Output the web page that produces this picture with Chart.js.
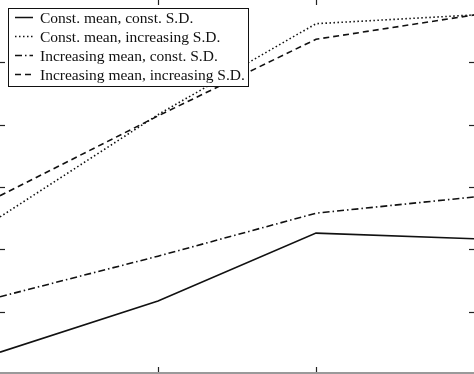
<!DOCTYPE html>
<html><head><meta charset="utf-8">
<script src="https://cdn.jsdelivr.net/npm/chart.js@4/dist/chart.umd.min.js"></script>
<style>html,body{margin:0;padding:0;background:#fff;}#wrap{width:474px;height:374px;}</style>
</head><body><div id="wrap"><canvas id="c" width="474" height="374"></canvas></div>
<script>
const xValues = [0, 1, 2, 3];
const seriesLabels = ["Const. mean, const. S.D.", "Const. mean, increasing S.D.", "Increasing mean, const. S.D.", "Increasing mean, increasing S.D."];
const constMeanConstSD = [0.35, 1.17, 2.26, 2.17];
const constMeanIncSD = [2.52, 4.16, 5.62, 5.76];
const incMeanConstSD = [1.24, 1.89, 2.58, 2.84];
const incMeanIncSD = [2.86, 4.14, 5.37, 5.76];
const xTicks = [1, 2];
const yTicks = [1, 2, 3, 4, 5];

const dashes = [[], [1.5, 2.5], [7, 3, 1.5, 3], [6, 4]];
const seriesData = [constMeanConstSD, constMeanIncSD, incMeanConstSD, incMeanIncSD];

const datasets = seriesData.map((vals, i) => ({
  label: seriesLabels[i],
  data: vals.map((v, j) => ({x: xValues[j], y: v})),
  borderColor: '#111',
  borderWidth: 1.6,
  borderDash: dashes[i],
  pointRadius: 0,
  fill: false,
  tension: 0
}));

const decor = {
  id: 'decor',
  afterDatasetsDraw(chart) {
    const ctx = chart.ctx, a = chart.chartArea;
    const xs = chart.scales.x, ys = chart.scales.y;
    ctx.save();
    ctx.strokeStyle = '#9a9a9a'; ctx.lineWidth = 2;
    ctx.beginPath(); ctx.moveTo(a.left, a.bottom - 1); ctx.lineTo(a.right, a.bottom - 1); ctx.stroke();
    ctx.strokeStyle = '#222'; ctx.lineWidth = 1.2;
    xTicks.forEach(t => {
      const px = Math.round(xs.getPixelForValue(t)) + 0.5;
      ctx.beginPath(); ctx.moveTo(px, a.bottom - 2); ctx.lineTo(px, a.bottom - 7); ctx.stroke();
      ctx.beginPath(); ctx.moveTo(px, a.top); ctx.lineTo(px, a.top + 5); ctx.stroke();
    });
    yTicks.forEach(t => {
      const py = Math.round(ys.getPixelForValue(t)) + 0.5;
      ctx.beginPath(); ctx.moveTo(a.left, py); ctx.lineTo(a.left + 5, py); ctx.stroke();
      ctx.beginPath(); ctx.moveTo(a.right - 5, py); ctx.lineTo(a.right, py); ctx.stroke();
    });
    const bx = 8.5, by = 8.5, bw = 240, bh = 78;
    ctx.fillStyle = '#fff'; ctx.fillRect(bx, by, bw, bh);
    ctx.strokeStyle = '#111'; ctx.lineWidth = 1; ctx.setLineDash([]);
    ctx.strokeRect(bx, by, bw, bh);
    ctx.font = '15.5px "Liberation Serif", "Times New Roman", serif';
    ctx.textBaseline = 'middle'; ctx.textAlign = 'left';
    seriesLabels.forEach((lab, i) => {
      const cy = 17.5 + i * 19;
      ctx.strokeStyle = '#111'; ctx.lineWidth = 1.5; ctx.setLineDash(dashes[i]);
      ctx.beginPath(); ctx.moveTo(15, cy); ctx.lineTo(33, cy); ctx.stroke();
      ctx.setLineDash([]);
      ctx.fillStyle = '#111'; ctx.fillText(lab, 40, cy + 1);
    });
    ctx.restore();
  }
};

new Chart(document.getElementById('c'), {
  type: 'line',
  data: { datasets },
  options: {
    responsive: false,
    animation: false,
    layout: { padding: 0 },
    plugins: { legend: { display: false }, tooltip: { enabled: false } },
    scales: {
      x: { type: 'linear', min: 0, max: 3, display: false },
      y: { type: 'linear', min: 0, max: 6, display: false }
    }
  },
  plugins: [decor]
});
</script></body></html>
